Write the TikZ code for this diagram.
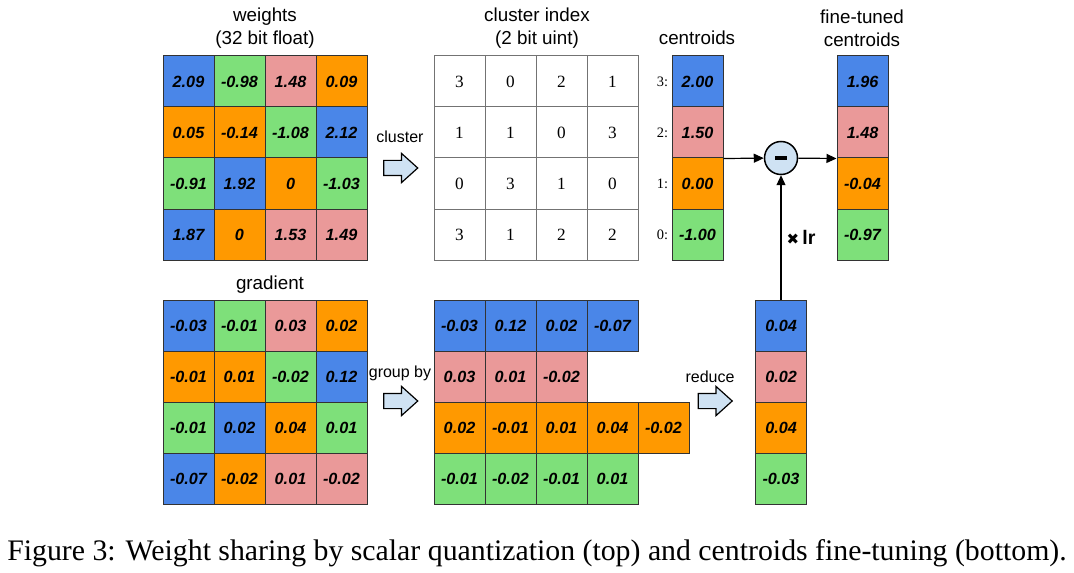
\documentclass[tikz,border=0pt]{standalone}
\usepackage{fontspec}
\setmainfont{Liberation Sans}
\newfontfamily\serifface{Liberation Serif}
\newfontfamily\symbface{DejaVu Sans}
\usetikzlibrary{positioning,shapes.arrows,arrows.meta}

\definecolor{cblue}{HTML}{4A86E8}
\definecolor{cpink}{HTML}{EA9999}
\definecolor{corange}{HTML}{FF9900}
\definecolor{cgreen}{HTML}{7EE07A}
\definecolor{lightblue}{HTML}{CFE2F3}

\tikzset{
  cell/.style={draw=black!80, line width=0.5pt, minimum size=25.5pt, inner sep=0pt,
    font=\fontsize{8.1}{9}\selectfont\bfseries\itshape},
  idxcell/.style={draw=black!55, line width=0.5pt, minimum size=25.5pt, inner sep=0pt,
    font=\fontsize{8.6}{10}\serifface},
  idxlabel/.style={inner sep=0pt, font=\fontsize{7.2}{8}\serifface},
  title/.style={align=center, font=\fontsize{9.4}{11.5}\selectfont},
  opname/.style={font=\fontsize{8}{9}\selectfont},
  blockarrow/.style={single arrow, draw=black, line width=0.6pt, fill=lightblue,
    minimum height=17pt, single arrow head extend=3.5pt,
    single arrow tip angle=84, inner sep=0pt},
  conn/.style={line width=0.6pt, -{Triangle[length=5pt,width=4.5pt]}},
}

\begin{document}
\begin{tikzpicture}[x=0.5pt,y=-0.5pt]
\useasboundingbox (0,0) rectangle (1074,572);

% weights
\foreach \v/\col [count=\k from 0] in {2.09/cblue,-0.98/cgreen,1.48/cpink,0.09/corange,
  0.05/corange,-0.14/corange,-1.08/cgreen,2.12/cblue,
  -0.91/cgreen,1.92/cblue,0/corange,-1.03/cgreen,
  1.87/cblue,0/corange,1.53/cpink,1.49/cpink}
{
  \pgfmathtruncatemacro\row{int(\k/4)}
  \pgfmathtruncatemacro\cl{mod(\k,4)}
  \node[cell, fill=\col] (w-\row-\cl) at ({188.5+51*\cl},{81.5+51*\row}) {\v};
}
\node[title] (wtitle) at (265,28) {weights\\(32 bit float)};

% cluster index
\foreach \v [count=\k from 0] in {3,0,2,1, 1,1,0,3, 0,3,1,0, 3,1,2,2}
{
  \pgfmathtruncatemacro\row{int(\k/4)}
  \pgfmathtruncatemacro\cl{mod(\k,4)}
  \node[idxcell] (i-\row-\cl) at ({459.5+51*\cl},{81.5+51*\row}) {\v};
}
\node[title] (ititle) at (537,28) {cluster index\\(2 bit uint)};

\node[blockarrow] (clusterarrow) at (396.5,168) {\rule{0pt}{7pt}};
\node[opname] (clusterlabel) at (400,137) {cluster};

% centroids
\foreach \v/\col/\id [count=\k from 0] in {2.00/cblue/3,1.50/cpink/2,0.00/corange/1,-1.00/cgreen/0}
{
  \node[cell, fill=\col] (c-\k) at (697.5,{81.5+51*\k}) {\v};
  \node[idxlabel, left=1.5pt of c-\k] (cl-\k) {\id:};
}
\node[title] (ctitle) at (697,38) {centroids};

% fine-tuned centroids
\foreach \v/\col [count=\k from 0] in {1.96/cblue,1.48/cpink,-0.04/corange,-0.97/cgreen}
  \node[cell, fill=\col] (f-\k) at (862.5,{81.5+51*\k}) {\v};
\node[title] (ftitle) at (862,28) {fine-tuned\\centroids};

% gradient
\foreach \v/\col [count=\k from 0] in {-0.03/cblue,-0.01/cgreen,0.03/cpink,0.02/corange,
  -0.01/corange,0.01/corange,-0.02/cgreen,0.12/cblue,
  -0.01/cgreen,0.02/cblue,0.04/corange,0.01/cgreen,
  -0.07/cblue,-0.02/corange,0.01/cpink,-0.02/cpink}
{
  \pgfmathtruncatemacro\row{int(\k/4)}
  \pgfmathtruncatemacro\cl{mod(\k,4)}
  \node[cell, fill=\col] (g-\row-\cl) at ({188.5+51*\cl},{325.5+51*\row}) {\v};
}
\node[title] (gtitle) at (270,285) {gradient};

\node[blockarrow] (grouparrow) at (396.5,401) {\rule{0pt}{7pt}};
\node[opname] (grouplabel) at (400,373) {group by};

% grouped gradient
\foreach \row/\col/\vals in {0/cblue/{-0.03,0.12,0.02,-0.07},1/cpink/{0.03,0.01,-0.02},
  2/corange/{0.02,-0.01,0.01,0.04,-0.02},3/cgreen/{-0.01,-0.02,-0.01,0.01}}
  \foreach \v [count=\cl from 0] in \vals
    \node[cell, fill=\col] (s-\row-\cl) at ({459.5+51*\cl},{325.5+51*\row}) {\v};

\node[blockarrow] (reducearrow) at (711,401) {\rule{0pt}{7pt}};
\node[opname] (reducelabel) at (710,377) {reduce};

% reduced gradient
\foreach \v/\col [count=\k from 0] in {0.04/cblue,0.02/cpink,0.04/corange,-0.03/cgreen}
  \node[cell, fill=\col] (r-\k) at (781,{325.5+51*\k}) {\v};

\node[circle, draw, fill=lightblue, line width=0.75pt, minimum size=16.5pt, inner sep=0pt]
  (minus) at (781,158) {\rule{6pt}{2.4pt}};

\draw[conn] (c-1.south east) -- (minus);
\draw[conn] (minus) -- (f-1.south west);
\draw[conn] (r-0.north) -- (minus);
\node[font=\fontsize{9.8}{10}\selectfont\bfseries] (lr) at (801,237)
  {{\symbface\fontsize{7.5}{8}\selectfont ✖}\,lr};

\node[font=\fontsize{14.9}{16}\serifface] (caption) at (537,553)
  {Figure 3: Weight sharing by scalar quantization (top) and centroids fine-tuning (bottom).};

\end{tikzpicture}
\end{document}
